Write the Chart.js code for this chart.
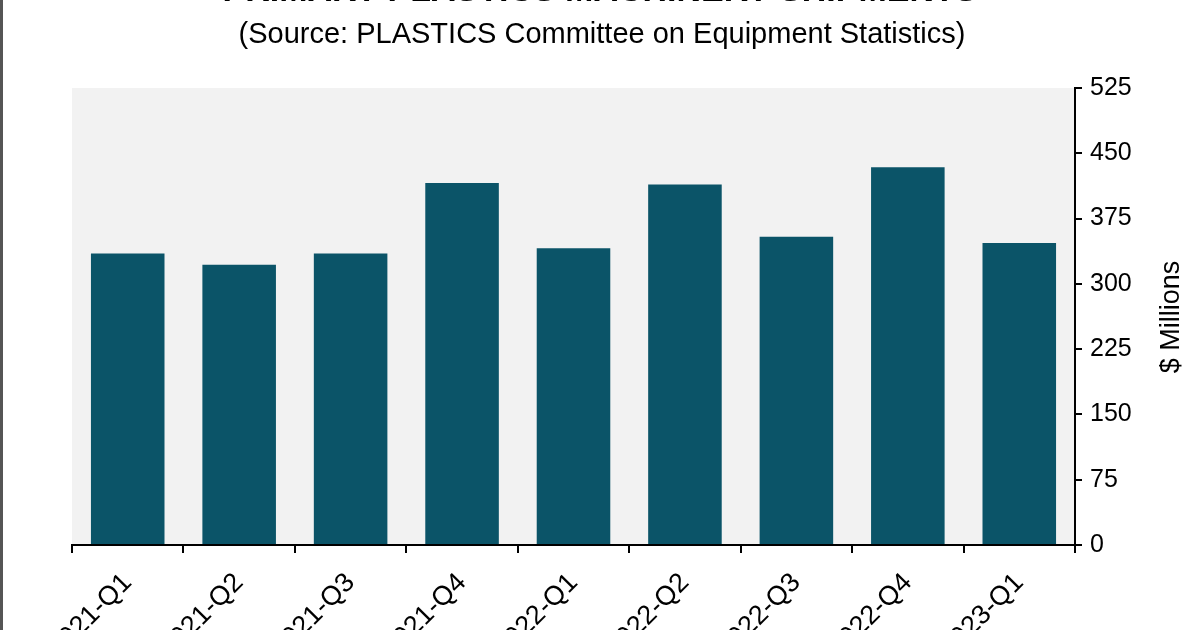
<!DOCTYPE html>
<html>
<head>
<meta charset="utf-8">
<script src="https://cdn.jsdelivr.net/npm/chart.js@4"></script>
<style>
  html, body { margin:0; padding:0; background:#fff; overflow:hidden; width:1200px; height:630px; }
  #wrap { position:absolute; left:0; top:-22px; width:1200px; height:690px; }
</style>
</head>
<body>
<div id="wrap"><canvas id="c"></canvas></div>
<script>
// Primary plastics machinery shipments, quarterly
const quarters = ["2021-Q1","2021-Q2","2021-Q3","2021-Q4","2022-Q1","2022-Q2","2022-Q3","2022-Q4","2023-Q1"];
const shipments = [335, 322, 335, 416, 341, 414, 354, 434, 347];
const yTicks = [0, 75, 150, 225, 300, 375, 450, 525];

const font = "'Liberation Sans', Arial, sans-serif";

const decor = {
  id: "decor",
  beforeDraw(chart){
    const { ctx, chartArea: a } = chart;
    ctx.save();
    ctx.fillStyle = "#f2f2f2";
    ctx.fillRect(a.left, a.top, a.right - a.left, a.bottom - a.top);
    ctx.restore();
  },
  afterDraw(chart){
    const { ctx } = chart;
    ctx.save();
    ctx.fillStyle = "#000";
    ctx.textAlign = "center";
    ctx.textBaseline = "middle";
    ctx.font = "bold 34px " + font;
    ctx.fillText("PRIMARY PLASTICS MACHINERY SHIPMENTS", 600, 14);
    ctx.font = "29px " + font;
    ctx.fillText("(Source: PLASTICS Committee on Equipment Statistics)", 602, 57);
    // y title on the right
    ctx.translate(1172, 339);
    ctx.rotate(-Math.PI / 2);
    ctx.font = "27px " + font;
    ctx.fillText("$ Millions", 0, 0);
    ctx.restore();
    // frame line on the left
    ctx.save();
    ctx.fillStyle = "#555";
    ctx.fillRect(0, 0, 3, 690);
    ctx.restore();
  }
};

new Chart(document.getElementById("c"), {
  type: "bar",
  data: {
    labels: quarters,
    datasets: [{ data: shipments, backgroundColor: "#0b5468", barPercentage: 0.66, categoryPercentage: 1 }]
  },
  options: {
    responsive: true,
    maintainAspectRatio: false,
    animation: false,
    layout: { padding: { top: 110, left: 72, right: 0, bottom: 0 } },
    plugins: { legend: { display: false }, tooltip: { enabled: false } },
    scales: {
      x: {
        offset: true,
        border: { color: "#000", width: 2 },
        grid: { display: true, drawOnChartArea: false, offset: true, color: "#000", tickLength: 8, lineWidth: 2 },
        ticks: { color: "#000", font: { family: font, size: 27 }, minRotation: 45, maxRotation: 45, padding: 14 },
        afterFit(s){ s.height = 123; }
      },
      y: {
        position: "right",
        min: 0, max: 525,
        afterBuildTicks(s){ s.ticks = yTicks.map(v => ({ value: v })); },
        border: { color: "#000", width: 2 },
        grid: { display: true, drawOnChartArea: false, color: "#000", tickLength: 7, lineWidth: 2 },
        ticks: { color: "#000", font: { family: font, size: 25 }, padding: 8 },
        afterFit(s){ s.width = 125; }
      }
    }
  },
  plugins: [decor]
});
</script>
</body>
</html>
